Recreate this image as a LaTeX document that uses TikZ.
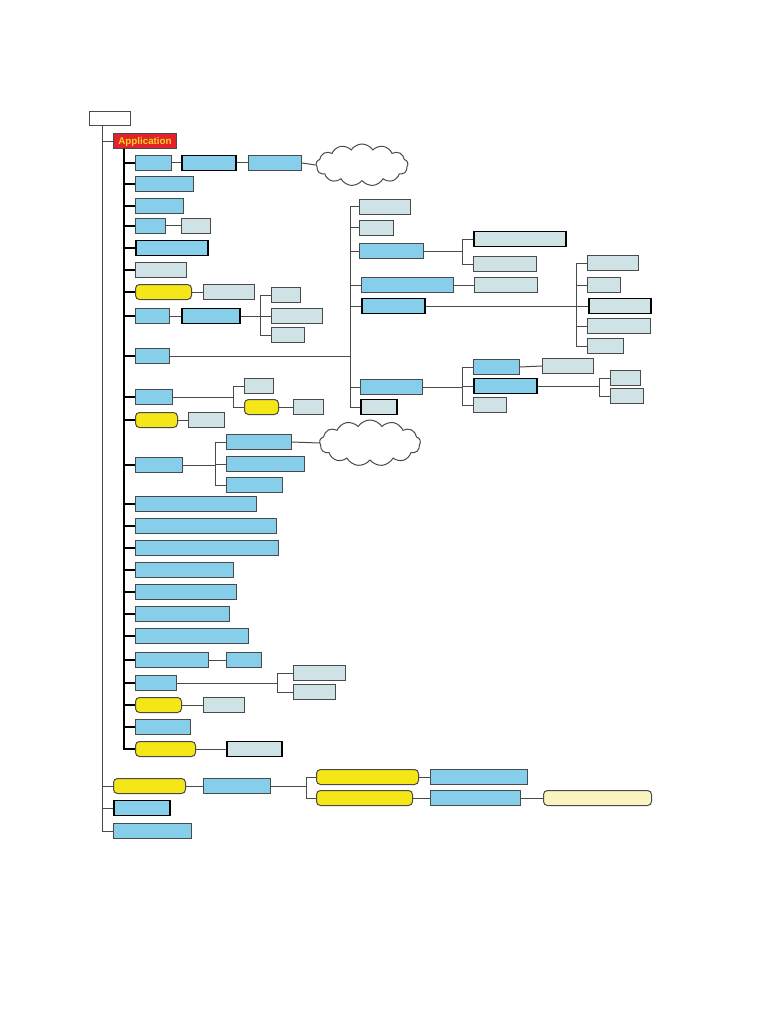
\documentclass[tikz,border=0pt]{standalone}
\usepackage{fontspec}
\setmainfont{Liberation Sans}
\usetikzlibrary{shapes.symbols}

\definecolor{skyfill}{HTML}{87CEEB}
\definecolor{palefill}{HTML}{CFE3E6}
\definecolor{yelfill}{HTML}{F5E617}
\definecolor{creamfill}{HTML}{FAF4C0}
\definecolor{redfill}{HTML}{E3232B}
\definecolor{labelyel}{HTML}{F7D51C}
\definecolor{edge}{HTML}{4A4A4A}

\begin{document}
\begin{tikzpicture}[
    x=1pt, y=-1pt,
    box/.style={
      draw=edge, line width=1pt, anchor=west,
      minimum height=15pt, inner sep=0pt,
    },
    len/.style={minimum width=#1pt},
    bluebox/.style={box, fill=skyfill},
    palebox/.style={box, fill=palefill},
    yelbox/.style={box, fill=yelfill, rounded corners=4pt},
    creambox/.style={box, fill=creamfill, rounded corners=4pt},
    heavy/.style={draw=black, line width=1.5pt},
    link/.style={draw=edge, line width=1pt},
    spine/.style={draw=black, line width=1.5pt},
    puff/.style={
      cloud, draw=edge, line width=1pt, cloud puffs=13,
      cloud puff arc=115, aspect=2.2, inner sep=0pt,
    }
    ]
  \useasboundingbox (0,0) rectangle (768,1024);

  % root and application
  \node[box, fill=white, minimum height=14pt, len=41] (root) at (89,119) {};
  \node[box, fill=redfill, len=63, text=labelyel,
    font=\bfseries\fontsize{9.8}{10}\selectfont] (app) at (113,141.5) {Application};

  % application children
  \node[bluebox, len=36] (a1) at (135,163) {};
  \node[bluebox, heavy, len=54] (a1b) at (181,163) {};
  \node[bluebox, len=53] (a1c) at (248,163) {};
  \node[puff, minimum width=92pt, minimum height=42pt] (cl1) at (362,165) {};
  \node[bluebox, len=58] (a2) at (135,184) {};
  \node[bluebox, len=48] (a3) at (135,206) {};
  \node[bluebox, len=30] (a4) at (135,226) {};
  \node[palebox, len=29] (a4b) at (181,226) {};
  \node[bluebox, heavy, len=72] (a5) at (135,248) {};
  \node[palebox, len=51] (a6) at (135,270) {};
  \node[yelbox, len=56] (a7) at (135,292) {};
  \node[palebox, len=51] (a7b) at (203,292) {};
  \node[bluebox, len=34] (a8) at (135,316) {};
  \node[bluebox, heavy, len=58] (a8b) at (181,316) {};
  \node[palebox, len=29] (a8c) at (271,295) {};
  \node[palebox, len=51] (a8d) at (271,316) {};
  \node[palebox, len=33] (a8e) at (271,335) {};
  \node[bluebox, len=34] (a9) at (135,356) {};
  \node[bluebox, len=37] (a10) at (135,397) {};
  \node[palebox, len=29] (a10b) at (244,386) {};
  \node[yelbox, len=34] (a10c) at (244,407) {};
  \node[palebox, len=30] (a10d) at (293,407) {};
  \node[yelbox, len=42] (a11) at (135,420) {};
  \node[palebox, len=36] (a11b) at (188,420) {};
  \node[bluebox, len=47] (a12) at (135,465) {};
  \node[bluebox, len=65] (a12b) at (226,442) {};
  \node[bluebox, len=78] (a12c) at (226,464) {};
  \node[bluebox, len=56] (a12d) at (226,485) {};
  \node[puff, minimum width=101pt, minimum height=46pt] (cl2) at (370,443) {};
  \node[bluebox, len=121] (a13) at (135,504) {};
  \node[bluebox, len=141] (a14) at (135,526) {};
  \node[bluebox, len=143] (a15) at (135,548) {};
  \node[bluebox, len=98] (a16) at (135,570) {};
  \node[bluebox, len=101] (a17) at (135,592) {};
  \node[bluebox, len=94] (a18) at (135,614) {};
  \node[bluebox, len=113] (a19) at (135,636) {};
  \node[bluebox, len=73] (a20) at (135,660) {};
  \node[bluebox, len=35] (a20b) at (226,660) {};
  \node[bluebox, len=41] (a21) at (135,683) {};
  \node[palebox, len=52] (a21b) at (293,673) {};
  \node[palebox, len=42] (a21c) at (293,692) {};
  \node[yelbox, len=46] (a22) at (135,705) {};
  \node[palebox, len=41] (a22b) at (203,705) {};
  \node[bluebox, len=55] (a23) at (135,727) {};
  \node[yelbox, len=60] (a24) at (135,749) {};
  \node[palebox, heavy, len=55] (a24b) at (226,749) {};

  % right hand group
  \node[palebox, len=51] (r1) at (359,207) {};
  \node[palebox, len=34] (r2) at (359,228) {};
  \node[bluebox, len=64] (r3) at (359,251) {};
  \node[palebox, heavy, len=92] (r3a) at (473,239) {};
  \node[palebox, len=63] (r3b) at (473,264) {};
  \node[bluebox, len=92] (r4) at (361,285) {};
  \node[palebox, len=63] (r4a) at (474,285) {};
  \node[bluebox, heavy, len=63] (r5) at (361,306) {};
  \node[palebox, len=51] (r5a) at (587,263) {};
  \node[palebox, len=33] (r5b) at (587,285) {};
  \node[palebox, heavy, len=62] (r5c) at (588,306) {};
  \node[palebox, len=63] (r5d) at (587,326) {};
  \node[palebox, len=36] (r5e) at (587,346) {};
  \node[bluebox, len=62] (r6) at (360,387) {};
  \node[bluebox, len=46] (r6a) at (473,367) {};
  \node[palebox, len=51] (r6b) at (542,366) {};
  \node[bluebox, heavy, len=63] (r6c) at (473,386) {};
  \node[palebox, len=30] (r6d) at (610,378) {};
  \node[palebox, len=33] (r6e) at (610,396) {};
  \node[palebox, len=33] (r6f) at (473,405) {};
  \node[palebox, heavy, len=36] (r7) at (360,407) {};

  % bottom group
  \node[yelbox, len=72] (b1) at (113,786) {};
  \node[bluebox, len=67] (b1b) at (203,786) {};
  \node[yelbox, len=102] (b1c) at (316,777) {};
  \node[bluebox, len=97] (b1d) at (430,777) {};
  \node[yelbox, len=96] (b1e) at (316,798) {};
  \node[bluebox, len=90] (b1f) at (430,798) {};
  \node[creambox, len=108] (b1g) at (543,798) {};
  \node[bluebox, heavy, len=56] (b2) at (113,808) {};
  \node[bluebox, len=78] (b3) at (113,831) {};

  % trunks
  \coordinate (t0) at (102,126);
  \foreach \n in {app,b1,b2,b3}
    \draw[link] (t0) |- (\n.west);
  \coordinate (ta) at (124,149);
  \foreach \i in {1,...,24}
    \draw[spine] (ta) |- (a\i.west);

  % straight links
  \foreach \a/\b in {a1/a1b, a1b/a1c, a1c/cl1, a4/a4b, a7/a7b, a8/a8b,
      a10c/a10d, a11/a11b, a12b/cl2, a20/a20b, a22/a22b, a24/a24b,
      r4/r4a, r6a/r6b, b1/b1b, b1c/b1d, b1e/b1f, b1f/b1g}
    \draw[link] (\a.east) -- (\b.west);

  % forks
  \coordinate (j8) at (260,316);
  \coordinate (j10) at (233,397);
  \coordinate (j12) at (215,465);
  \coordinate (j21) at (277,683);
  \coordinate (tr) at (350,356);
  \coordinate (j3) at (462,251);
  \coordinate (j5) at (576,306);
  \coordinate (j6) at (462,387);
  \coordinate (j6c) at (599,386);
  \coordinate (jb) at (306,786);
  \foreach \p/\j/\kids in {a8b/j8/{a8c,a8d,a8e}, a10/j10/{a10b,a10c},
      a12/j12/{a12b,a12c,a12d}, a21/j21/{a21b,a21c},
      a9/tr/{r1,r2,r3,r4,r5,r6,r7}, r3/j3/{r3a,r3b},
      r5/j5/{r5a,r5b,r5c,r5d,r5e}, r6/j6/{r6a,r6c,r6f},
      r6c/j6c/{r6d,r6e}, b1b/jb/{b1c,b1e}} {
    \draw[link] (\p.east) -- (\j);
    \foreach \k in \kids
      \draw[link] (\j) |- (\k.west);
  }
\end{tikzpicture}
\end{document}
